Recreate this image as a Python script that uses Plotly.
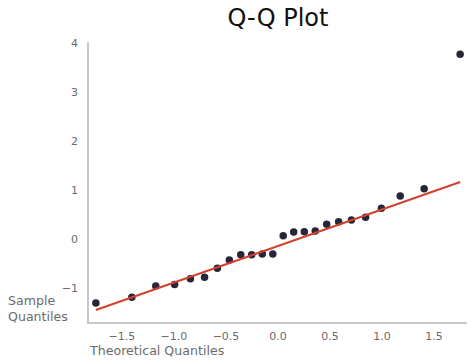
import plotly.graph_objects as go

# Theoretical normal quantiles (x) and ordered sample values (y)
theoretical_quantiles = [-1.751, -1.405, -1.175, -0.994, -0.842, -0.706, -0.583, -0.468,
                         -0.358, -0.253, -0.151, -0.050, 0.050, 0.151, 0.253, 0.358,
                         0.468, 0.583, 0.706, 0.842, 0.994, 1.175, 1.405, 1.751]
sample_quantiles = [-1.306, -1.19, -0.959, -0.929, -0.81, -0.782, -0.598, -0.429,
                    -0.32, -0.32, -0.306, -0.306, 0.067, 0.143, 0.149, 0.163,
                    0.30, 0.353, 0.388, 0.443, 0.627, 0.878, 1.027, 3.769]

# Reference line endpoints
line_x = [-1.751, 1.751]
line_y = [-1.449, 1.163]

x_ticks = [-1.5, -1.0, -0.5, 0.0, 0.5, 1.0, 1.5]
x_tick_labels = ["−1.5", "−1.0", "−0.5", "0.0", "0.5", "1.0", "1.5"]
y_ticks = [-1, 0, 1, 2, 3, 4]
y_tick_labels = ["−1", "0", "1", "2", "3", "4"]

FONT = "DejaVu Sans"
GRAY = "#6b6b6b"

fig = go.Figure()
fig.add_trace(go.Scatter(
    x=theoretical_quantiles, y=sample_quantiles, mode="markers",
    marker=dict(color="#262638", size=7.5, line=dict(width=0)),
    showlegend=False, hoverinfo="x+y", cliponaxis=False))
fig.add_trace(go.Scatter(
    x=line_x, y=line_y, mode="lines",
    line=dict(color="#d2402e", width=2),
    showlegend=False))

fig.update_layout(
    template="none",
    width=474, height=364,
    margin=dict(l=89, r=7, t=42, b=42, autoexpand=False),
    paper_bgcolor="white", plot_bgcolor="white",
    font=dict(family=FONT, color=GRAY),
    title=dict(text="Q-Q Plot", x=278 / 474, xanchor="center", y=1 - 18 / 364,
               yanchor="middle", font=dict(family=FONT, size=24, color="#111111")),
    xaxis=dict(range=[-1.817, 1.817], tickvals=x_ticks, ticktext=x_tick_labels,
               showgrid=False, zeroline=False, showline=True, linecolor="#c8c8c8",
               linewidth=1.5, ticks="", ticklabelstandoff=3, automargin=False,
               tickfont=dict(family=FONT, size=11, color=GRAY)),
    yaxis=dict(range=[-1.694, 4.02], tickvals=y_ticks, ticktext=y_tick_labels,
               showgrid=False, zeroline=False, showline=True, linecolor="#c8c8c8",
               linewidth=1.5, ticks="", ticklabelstandoff=7, automargin=False,
               tickfont=dict(family=FONT, size=11, color=GRAY)),
    annotations=[
        dict(text="Theoretical Quantiles", xref="paper", yref="paper",
             x=-2 / 378, xanchor="left", y=-(350.5 - 322) / 280, yanchor="middle",
             showarrow=False, font=dict(family=FONT, size=12.6, color=GRAY)),
        dict(text="Sample<br>Quantiles", xref="paper", yref="paper",
             x=-(89 - 6) / 378, xanchor="left", y=-(308.5 - 322) / 280,
             yanchor="middle", align="left",
             showarrow=False, font=dict(family=FONT, size=12.6, color=GRAY)),
    ],
)

fig.write_html("out.html", config={"displayModeBar": False},
               post_script="document.body.style.margin='0';document.body.style.overflow='hidden';")
